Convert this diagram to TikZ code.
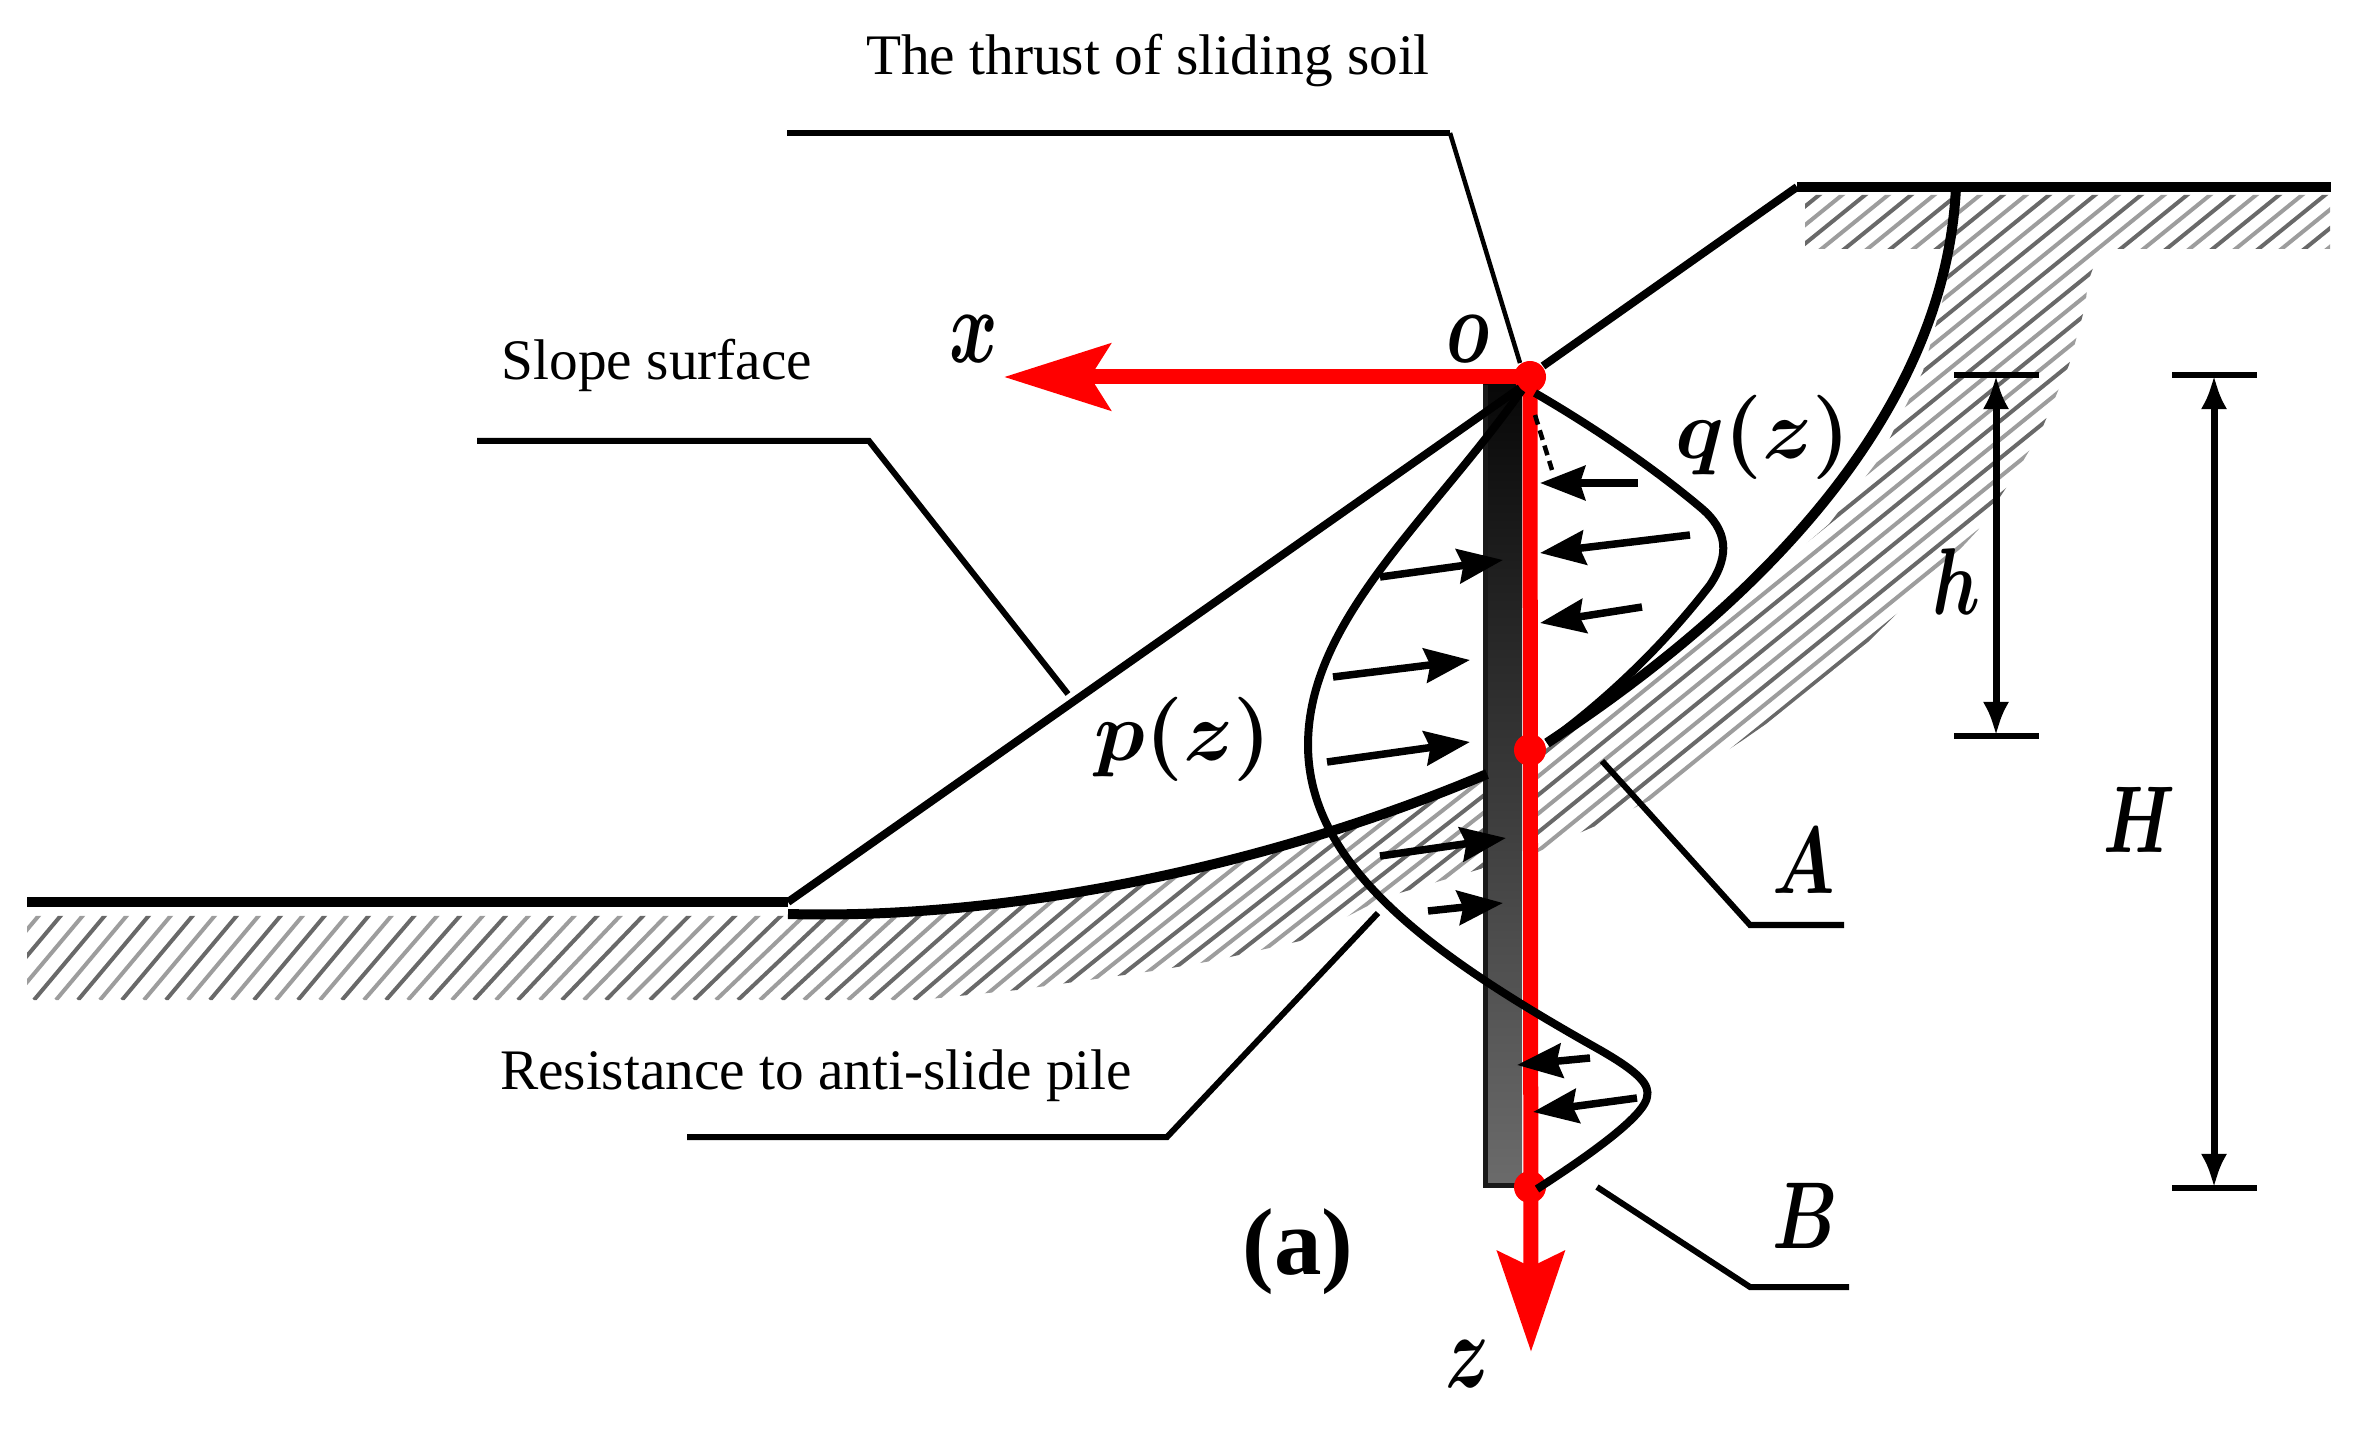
\documentclass[tikz,border=0pt]{standalone}
\usepackage{xcolor}
\usepackage{fontspec}
\setmainfont{Liberation Serif}
\usetikzlibrary{arrows.meta,calc}
\definecolor{axisred}{RGB}{255,0,0}
\definecolor{hatchgray}{RGB}{105,105,105}
\newcommand{\hatchlines}[3]{
  \foreach \i [count=\k] in {#1} {
    \pgfmathsetmacro{\hatchangle}{#2}
    \pgfmathsetmacro{\hatchdx}{#3*cos(\hatchangle)}
    \pgfmathsetmacro{\hatchdy}{-#3*sin(\hatchangle)}
    \pgfmathtruncatemacro{\hatchodd}{mod(\k,2)}
    \draw[hatch\hatchodd] (\i,1000) -- ++(\hatchdx,\hatchdy);
  }
}
\tikzstyle{ground}=[line width=.1cm]
\tikzstyle{body}=[line width=.08cm]
\tikzstyle{leader}=[line width=.06cm,line join=miter]
\tikzstyle{dim}=[line width=.07cm,{Latex[length=.34cm,width=.26cm]}-{Latex[length=.34cm,width=.26cm]}]
\tikzstyle{tick}=[line width=.065cm]
\tikzstyle{load}=[line width=.075cm,-{Stealth[length=.45cm,width=.34cm,inset=.05cm]}]
\tikzstyle{axis}=[line width=.15cm,color=axisred]
\tikzstyle{reddot}=[circle,fill=axisred,minimum size=.32cm,inner sep=0pt]
\tikzstyle{caption}=[anchor=base,font=\fontsize{16.3}{18}\selectfont]
\tikzstyle{symbol}=[anchor=base,xscale=2.4,yscale=2.7,font=\boldmath]
\tikzstyle{boldsymbol}=[anchor=base,scale=2.4,font=\boldmath]
\tikzstyle{axissymbol}=[anchor=base,xscale=2.1,yscale=3,font=\boldmath]
\tikzset{hatch0/.style={line width=.04cm,color=hatchgray}}
\tikzset{hatch1/.style={line width=.04cm,color=hatchgray!65}}
\tikzset{y=-.01cm}
\tikzset{x=.01cm}

\begin{document}
\begin{tikzpicture}
  \useasboundingbox (0,0) rectangle (2366,1431);

  %% Hatching
  \begin{scope}
    \clip (27,916) -- (788,916) -- (900,912) -- (1000,902) -- (1133,885) -- (1233,859) -- (1343,829) -- (1487,776)
      -- (1487,867) -- (1383,898) -- (1300,941) -- (1217,960) -- (1160,970) -- (1110,977) -- (1017,990) -- (920,1000) -- (27,1000) -- cycle;
    \hatchlines{-120,-98,...,1480}{max(38,min(50,50-(\i-300)*.015))}{500}
  \end{scope}
  \begin{scope}
    \clip (1538,745) -- (1600,709) -- (1733,609) -- (1800,549) -- (1829,524) -- (1880,458) -- (1923,371) -- (1947,284) -- (1950,249)
      -- (1805,249) -- (1805,195) -- (2330,195) -- (2330,249) -- (2100,249) -- (2088,282) -- (2085,307) -- (2077,336) -- (2069,365)
      -- (2055,398) -- (2041,431) -- (2014,476) -- (1978,530) -- (1935,576) -- (1868,642) -- (1766,724) -- (1743,740) -- (1657,797)
      -- (1607,821) -- (1563,840) -- (1538,852) -- cycle;
    \hatchlines{480,503,...,2340}{39}{1500}
  \end{scope}

  %% Pile
  \shade[top color=black!97,middle color=black!85,bottom color=black!58] (1483,385) rectangle (1522,1185);
  \draw[line width=.05cm,black!90] (1485,385) -- (1485,1185) -- (1522,1185);

  %% Axes
  \draw (1530,377) node[reddot] (O) {};
  \draw (1530,750) node[reddot] (A1) {};
  \draw (1530,1187) node[reddot] (B1) {};
  \coordinate (xtip) at (1004,377);
  \coordinate (ztip) at (1531,1352);
  \draw[axis,-{Stealth[length=1.06cm,width=.66cm,inset=.2cm]}] (O.center) -- (xtip);
  \draw[axis,-{Stealth[length=1cm,width=.66cm,inset=.15cm]}] (O.center) -- (ztip);

  %% Ground and slope
  \coordinate (G1) at (27,902);
  \coordinate (G2) at (788,902);
  \coordinate (G3) at (1797,187);
  \coordinate (G4) at (2331,187);
  \draw[ground] (G1) -- (G2);
  \draw[ground] (G3) -- (G4);
  \draw[body] (G2) -- (1520,388);
  \draw[body] (1543,366) -- (G3);
  \draw[ground] (788,914) .. controls (1000,920) and (1260,870) .. (1487,774);
  \draw[ground] (1547,743) .. controls (1750,610) and (1945,420) .. (1956,187);

  %% Load curves
  \draw[body] (1522,390) .. controls (1430,520) and (1308,620) .. (1308,745)
    .. controls (1308,870) and (1440,960) .. (1600,1050)
    .. controls (1640,1073) and (1650,1085) .. (1647,1097)
    .. controls (1645,1112) and (1610,1142) .. (1537,1189);
  \draw[body] (1535,393) .. controls (1590,425) and (1650,465) .. (1700,507)
    .. controls (1728,530) and (1730,555) .. (1710,585)
    .. controls (1660,650) and (1600,705) .. (1547,743);
  \foreach \sx/\sy/\ex/\ey [count=\n] in {1638/483/1540/483,1690/535/1540/553,1642/607/1540/623,1380/577/1503/560,1333/677/1470/660,1327/762/1470/742,1380/856/1506/838,1428/911/1503/903,1590/1058/1517/1065,1637/1098/1533/1112} {
    \coordinate (L\n) at (\sx,\sy);
    \coordinate (M\n) at (\ex,\ey);
    \draw[load] (L\n) -- (M\n);
  }

  %% Labels with leaders
  \draw (1148,75) node[caption] (thrust) {The thrust of sliding soil};
  \draw (657,380) node[caption] (slope) {Slope surface};
  \draw (816,1090) node[caption] (resist) {Resistance to anti-slide pile};
  \coordinate (T1) at (787,133);
  \coordinate (T2) at (1450,133);
  \coordinate (T3) at (1520,363);
  \coordinate (T4) at (1535,415);
  \coordinate (T5) at (1552,470);
  \draw[leader] (T1) -- (T2);
  \draw[line width=.045cm] (T2) -- (T3);
  \draw[line width=.045cm,dash pattern=on .1cm off .06cm] (T4) -- (T5);
  \coordinate (S1) at (477,441);
  \coordinate (S2) at (869,441);
  \coordinate (S3) at (1068,694);
  \draw[leader] (S1) -- (S2) -- (S3);
  \coordinate (R1) at (687,1137);
  \coordinate (R2) at (1167,1137);
  \coordinate (R3) at (1378,913);
  \draw[leader] (R1) -- (R2) -- (R3);
  \coordinate (A2) at (1602,761);
  \coordinate (A3) at (1750,925);
  \coordinate (A4) at (1844,925);
  \draw[leader] (A2) -- (A3) -- (A4);
  \coordinate (B2) at (1597,1187);
  \coordinate (B3) at (1750,1287);
  \coordinate (B4) at (1849,1287);
  \draw[leader] (B2) -- (B3) -- (B4);

  %% Dimensions
  \coordinate (h1) at (1996,375);
  \coordinate (h2) at (1996,736);
  \coordinate (H1) at (2214,375);
  \coordinate (H2) at (2214,1188);
  \draw[tick] (1954,375) -- (2039,375);
  \draw[tick] (1954,736) -- (2039,736);
  \draw[tick] (2172,375) -- (2257,375);
  \draw[tick] (2172,1188) -- (2257,1188);
  \draw[dim] (h1) -- (h2);
  \draw[dim] (H1) -- (H2);

  %% Symbols
  \draw (974,363) node[axissymbol] (xlabel) {$x$};
  \draw (1468,363) node[axissymbol] (olabel) {$o$};
  \draw (1468,1387) node[axissymbol] (zlabel) {$z$};
  \draw (1763,459) node[boldsymbol] (qlabel) {$q(z)$};
  \draw (1183,761) node[boldsymbol] (plabel) {$p(z)$};
  \draw (1956,615) node[symbol,xscale=.85] (hlabel) {$h$};
  \draw (2139,853) node[symbol,xscale=.8] (Hlabel) {$H$};
  \draw (1804,893) node[symbol,xscale=.85] (Alabel) {$A$};
  \draw (1805,1248) node[symbol,xscale=.85] (Blabel) {$B$};
  \draw (1298,1274) node[anchor=base,font=\fontsize{27}{30}\selectfont\bfseries] (alabel) {(a)};
\end{tikzpicture}
\end{document}
